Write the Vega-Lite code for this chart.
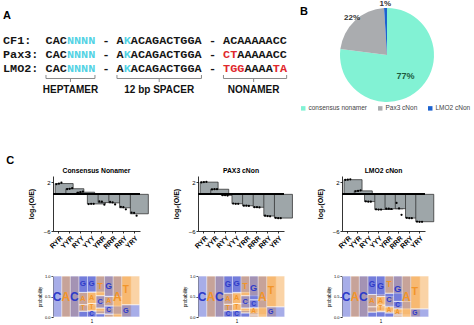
{
  "$schema": "https://vega.github.io/schema/vega-lite/v6.json",
  "padding": {"left": 3, "top": 0, "right": 0, "bottom": 0},
  "background": "white",
  "config": {
    "view": {"stroke": null},
    "font": "Liberation Sans",
    "title": {"font": "Liberation Sans", "color": "#000"},
    "axis": {"domainColor": "#000", "tickColor": "#000", "labelColor": "#000", "titleColor": "#000", "grid": false, "labelFont": "Liberation Sans", "titleFont": "Liberation Sans", "domainWidth": 0.8, "tickWidth": 0.8, "labelOverlap": false}
  },
  "datasets": {
    "seq": [
      {"r": 0, "c": 0, "t": "CF1:", "k": "plain"},
      {"r": 0, "c": 6, "t": "CAC", "k": "plain"},
      {"r": 0, "c": 9, "t": "NNNN", "k": "var"},
      {"r": 0, "c": 14, "t": "-", "k": "plain"},
      {"r": 0, "c": 16, "t": "A", "k": "plain"},
      {"r": 0, "c": 17, "t": "K", "k": "var"},
      {"r": 0, "c": 18, "t": "ACAGACTGGA", "k": "plain"},
      {"r": 0, "c": 29, "t": "-", "k": "plain"},
      {"r": 0, "c": 31, "t": "ACAAAAACC", "k": "plain"},
      {"r": 1, "c": 0, "t": "Pax3:", "k": "plain"},
      {"r": 1, "c": 6, "t": "CAC", "k": "plain"},
      {"r": 1, "c": 9, "t": "NNNN", "k": "var"},
      {"r": 1, "c": 14, "t": "-", "k": "plain"},
      {"r": 1, "c": 16, "t": "A", "k": "plain"},
      {"r": 1, "c": 17, "t": "K", "k": "var"},
      {"r": 1, "c": 18, "t": "ACAGACTGGA", "k": "plain"},
      {"r": 1, "c": 29, "t": "-", "k": "plain"},
      {"r": 1, "c": 31, "t": "CT", "k": "mut"},
      {"r": 1, "c": 33, "t": "AAAAACC", "k": "plain"},
      {"r": 2, "c": 0, "t": "LMO2:", "k": "plain"},
      {"r": 2, "c": 6, "t": "CAC", "k": "plain"},
      {"r": 2, "c": 9, "t": "NNNN", "k": "var"},
      {"r": 2, "c": 14, "t": "-", "k": "plain"},
      {"r": 2, "c": 16, "t": "A", "k": "plain"},
      {"r": 2, "c": 17, "t": "K", "k": "var"},
      {"r": 2, "c": 18, "t": "ACAGACTGGA", "k": "plain"},
      {"r": 2, "c": 29, "t": "-", "k": "plain"},
      {"r": 2, "c": 31, "t": "TGG", "k": "mut"},
      {"r": 2, "c": 34, "t": "AAAA", "k": "plain"},
      {"r": 2, "c": 38, "t": "TA", "k": "mut"}
    ],
    "brackets": [
      {"seg": "HEPTAMER", "a": 6.05, "b": 12.95, "m": 9.5},
      {"seg": "12 bp SPACER", "a": 16.05, "b": 27.95, "m": 22},
      {"seg": "NONAMER", "a": 31.05, "b": 39.95, "m": 35.3}
    ],
    "pie": [
      {"cat": "consensus nonamer", "pct": 77, "rank": 1, "lab": "77%"},
      {"cat": "Pax3 cNon", "pct": 22, "rank": 2, "lab": "22%"},
      {"cat": "LMO2 cNon", "pct": 1, "rank": 3, "lab": "1%"}
    ],
    "bars": [
      {"g": "cons", "m": "RYR", "a": 1.65, "b": 1.75, "c": 1.9},
      {"g": "cons", "m": "YYR", "a": 0.85, "b": 0.9, "c": 1.0},
      {"g": "cons", "m": "RYY", "a": 0.25, "b": 0.35, "c": 0.45},
      {"g": "cons", "m": "YYY", "a": -1.6, "b": -1.55, "c": -1.55},
      {"g": "cons", "m": "YRR", "a": -1.15, "b": -1.2, "c": -1.7},
      {"g": "cons", "m": "RRR", "a": -1.25, "b": -1.3, "c": -1.65},
      {"g": "cons", "m": "RRY", "a": -2.05, "b": -2.1, "c": -2.45},
      {"g": "cons", "m": "YRY", "a": -3.0, "b": -3.05, "c": -3.5},
      {"g": "pax", "m": "RYR", "a": 1.95, "b": 2.0, "c": 2.05},
      {"g": "pax", "m": "YYR", "a": 0.8, "b": 0.85, "c": 0.85},
      {"g": "pax", "m": "RYY", "a": -0.15, "b": -0.15, "c": -0.2},
      {"g": "pax", "m": "YYY", "a": -1.5, "b": -1.55, "c": -1.55},
      {"g": "pax", "m": "YRR", "a": -1.85, "b": -1.85, "c": -1.9},
      {"g": "pax", "m": "RRR", "a": -2.1, "b": -2.1, "c": -2.15},
      {"g": "pax", "m": "RRY", "a": -3.5, "b": -3.55, "c": -3.6},
      {"g": "pax", "m": "YRY", "a": -3.85, "b": -3.9, "c": -3.9},
      {"g": "lmo", "m": "RYR", "a": 2.35, "b": 2.4, "c": 2.45},
      {"g": "lmo", "m": "YYR", "a": 0.5, "b": 0.55, "c": 0.65},
      {"g": "lmo", "m": "RYY", "a": -1.15, "b": -1.2, "c": -1.2},
      {"g": "lmo", "m": "YYY", "a": -2.45, "b": -2.5, "c": -2.5},
      {"g": "lmo", "m": "YRR", "a": -2.35, "b": -2.35, "c": -2.4},
      {"g": "lmo", "m": "RRR", "a": -1.4, "b": -2.3, "c": -3.35},
      {"g": "lmo", "m": "RRY", "a": -3.85, "b": -3.9, "c": -3.9},
      {"g": "lmo", "m": "YRY", "a": -4.45, "b": -4.5, "c": -4.5}
    ],
    "logo": [
      {"g": "cons", "pos": 1, "l": "C", "p": 1},
      {"g": "cons", "pos": 2, "l": "A", "p": 1},
      {"g": "cons", "pos": 3, "l": "C", "p": 1},
      {"g": "cons", "pos": 4, "l": "C", "p": 0.14},
      {"g": "cons", "pos": 4, "l": "T", "p": 0.16},
      {"g": "cons", "pos": 4, "l": "A", "p": 0.3},
      {"g": "cons", "pos": 4, "l": "G", "p": 0.4},
      {"g": "cons", "pos": 5, "l": "C", "p": 0.15},
      {"g": "cons", "pos": 5, "l": "T", "p": 0.18},
      {"g": "cons", "pos": 5, "l": "A", "p": 0.28},
      {"g": "cons", "pos": 5, "l": "G", "p": 0.39},
      {"g": "cons", "pos": 6, "l": "G", "p": 0.08},
      {"g": "cons", "pos": 6, "l": "A", "p": 0.14},
      {"g": "cons", "pos": 6, "l": "C", "p": 0.3},
      {"g": "cons", "pos": 6, "l": "T", "p": 0.48},
      {"g": "cons", "pos": 7, "l": "T", "p": 0.07},
      {"g": "cons", "pos": 7, "l": "C", "p": 0.2},
      {"g": "cons", "pos": 7, "l": "A", "p": 0.23},
      {"g": "cons", "pos": 7, "l": "G", "p": 0.5},
      {"g": "cons", "pos": 8, "l": "A", "p": 1},
      {"g": "cons", "pos": 9, "l": "G", "p": 0.3},
      {"g": "cons", "pos": 9, "l": "T", "p": 0.7},
      {"g": "pax", "pos": 1, "l": "C", "p": 1},
      {"g": "pax", "pos": 2, "l": "A", "p": 1},
      {"g": "pax", "pos": 3, "l": "C", "p": 1},
      {"g": "pax", "pos": 4, "l": "C", "p": 0.15},
      {"g": "pax", "pos": 4, "l": "T", "p": 0.16},
      {"g": "pax", "pos": 4, "l": "A", "p": 0.27},
      {"g": "pax", "pos": 4, "l": "G", "p": 0.42},
      {"g": "pax", "pos": 5, "l": "C", "p": 0.16},
      {"g": "pax", "pos": 5, "l": "T", "p": 0.17},
      {"g": "pax", "pos": 5, "l": "A", "p": 0.27},
      {"g": "pax", "pos": 5, "l": "G", "p": 0.4},
      {"g": "pax", "pos": 6, "l": "G", "p": 0.1},
      {"g": "pax", "pos": 6, "l": "A", "p": 0.12},
      {"g": "pax", "pos": 6, "l": "C", "p": 0.3},
      {"g": "pax", "pos": 6, "l": "T", "p": 0.48},
      {"g": "pax", "pos": 7, "l": "T", "p": 0.05},
      {"g": "pax", "pos": 7, "l": "C", "p": 0.2},
      {"g": "pax", "pos": 7, "l": "A", "p": 0.17},
      {"g": "pax", "pos": 7, "l": "G", "p": 0.58},
      {"g": "pax", "pos": 8, "l": "A", "p": 1},
      {"g": "pax", "pos": 9, "l": "G", "p": 0.25},
      {"g": "pax", "pos": 9, "l": "T", "p": 0.75},
      {"g": "lmo", "pos": 1, "l": "C", "p": 1},
      {"g": "lmo", "pos": 2, "l": "A", "p": 1},
      {"g": "lmo", "pos": 3, "l": "C", "p": 1},
      {"g": "lmo", "pos": 4, "l": "C", "p": 0.12},
      {"g": "lmo", "pos": 4, "l": "T", "p": 0.13},
      {"g": "lmo", "pos": 4, "l": "A", "p": 0.3},
      {"g": "lmo", "pos": 4, "l": "G", "p": 0.45},
      {"g": "lmo", "pos": 5, "l": "C", "p": 0.14},
      {"g": "lmo", "pos": 5, "l": "T", "p": 0.15},
      {"g": "lmo", "pos": 5, "l": "A", "p": 0.21},
      {"g": "lmo", "pos": 5, "l": "G", "p": 0.5},
      {"g": "lmo", "pos": 6, "l": "G", "p": 0.1},
      {"g": "lmo", "pos": 6, "l": "A", "p": 0.15},
      {"g": "lmo", "pos": 6, "l": "C", "p": 0.33},
      {"g": "lmo", "pos": 6, "l": "T", "p": 0.42},
      {"g": "lmo", "pos": 7, "l": "T", "p": 0.05},
      {"g": "lmo", "pos": 7, "l": "A", "p": 0.15},
      {"g": "lmo", "pos": 7, "l": "C", "p": 0.18},
      {"g": "lmo", "pos": 7, "l": "G", "p": 0.62},
      {"g": "lmo", "pos": 8, "l": "A", "p": 1},
      {"g": "lmo", "pos": 9, "l": "G", "p": 0.2},
      {"g": "lmo", "pos": 9, "l": "T", "p": 0.8}
    ]
  },
  "columns": 1,
  "spacing": 43,
  "resolve": {"scale": {"color": "independent", "stroke": "independent", "size": "independent"}, "legend": {"color": "independent", "stroke": "independent", "size": "independent"}},
  "concat": [
    {
      "spacing": 12,
      "resolve": {"scale": {"color": "independent"}, "legend": {"color": "independent"}},
      "hconcat": [
        {
          "width": 235,
          "height": 100,
          "title": {"text": "A", "anchor": "start", "frame": "bounds", "offset": -16, "fontSize": 11, "fontWeight": "bold"},
          "layer": [
            {
              "data": {"name": "seq"},
              "mark": {"type": "text", "align": "left", "baseline": "middle", "font": "Liberation Mono", "fontSize": 11.8, "fontWeight": "bold"},
              "encoding": {
                "x": {"field": "c", "type": "quantitative", "scale": {"domain": [7.04, 40.14], "nice": false, "zero": false}, "axis": null},
                "y": {"field": "r", "type": "quantitative", "scale": {"domain": [-2.5, 4.643], "reverse": true, "nice": false, "zero": false}, "axis": null},
                "text": {"field": "t"},
                "color": {"field": "k", "type": "nominal", "scale": {"domain": ["plain", "var", "mut"], "range": ["#151515", "#52D2E4", "#E0282C"]}, "legend": null}
              }
            },
            {
              "data": {"name": "brackets"},
              "mark": {"type": "rule", "color": "#8a8a8a", "strokeWidth": 1},
              "encoding": {"x": {"field": "a", "type": "quantitative"}, "x2": {"field": "b"}, "y": {"datum": 2.75}}
            },
            {
              "data": {"name": "brackets"},
              "mark": {"type": "rule", "color": "#8a8a8a", "strokeWidth": 1},
              "encoding": {"x": {"field": "a", "type": "quantitative"}, "y": {"datum": 2.5}, "y2": {"datum": 2.75}}
            },
            {
              "data": {"name": "brackets"},
              "mark": {"type": "rule", "color": "#8a8a8a", "strokeWidth": 1},
              "encoding": {"x": {"field": "b", "type": "quantitative"}, "y": {"datum": 2.5}, "y2": {"datum": 2.75}}
            },
            {
              "data": {"name": "brackets"},
              "mark": {"type": "rule", "color": "#8a8a8a", "strokeWidth": 1},
              "encoding": {"x": {"field": "m", "type": "quantitative"}, "y": {"datum": 2.75}, "y2": {"datum": 3.0}}
            },
            {
              "data": {"name": "brackets"},
              "mark": {"type": "text", "align": "center", "baseline": "middle", "fontSize": 10, "fontWeight": "bold", "color": "#111"},
              "encoding": {"x": {"field": "m", "type": "quantitative"}, "y": {"datum": 3.57}, "text": {"field": "seg"}}
            }
          ]
        },
        {
          "width": 174,
          "height": 100,
          "title": {"text": "B", "anchor": "start", "frame": "group", "offset": -17, "fontSize": 11, "fontWeight": "bold"},
          "data": {"name": "pie"},
          "encoding": {
            "theta": {"field": "pct", "type": "quantitative", "stack": true},
            "order": {"field": "rank", "type": "quantitative"}
          },
          "layer": [
            {
              "mark": {"type": "arc", "radius": 47},
              "encoding": {
                "color": {"field": "cat", "type": "nominal", "scale": {"domain": ["consensus nonamer", "Pax3 cNon", "LMO2 cNon"], "range": ["#82F2D4", "#AAACAF", "#1C62CF"]},
                  "legend": {"orient": "bottom", "direction": "horizontal", "title": null, "symbolType": "square", "symbolSize": 20, "symbolStrokeWidth": 0, "labelFontSize": 6.5, "labelColor": "#444", "columnPadding": 9, "offset": 0, "labelOffset": 2, "padding": 0}}
              }
            },
            {
              "mark": {"type": "text", "radius": 28, "fontSize": 9, "fontWeight": "bold", "color": "#1E5A3C"},
              "encoding": {"text": {"condition": {"test": "datum.rank == 1", "field": "lab"}, "value": ""}}
            },
            {
              "mark": {"type": "text", "radius": 51, "fontSize": 8, "fontWeight": "bold", "color": "#333"},
              "encoding": {"text": {"condition": {"test": "datum.rank > 1", "field": "lab"}, "value": ""}}
            }
          ]
        }
      ]
    },
    {
      "title": {"text": "C", "anchor": "start", "frame": "bounds", "dx": -21, "fontSize": 11, "fontWeight": "bold", "offset": 2},
      "columns": 3,
      "bounds": "flush",
      "align": "each",
      "spacing": {"row": 45, "column": 58},
      "concat": [
        {
          "title": {"text": "Consensus Nonamer", "fontSize": 6.8, "fontWeight": "bold", "frame": "group", "offset": 1},
          "width": 87, "height": 55,
          "data": {"name": "bars"},
          "transform": [{"filter": "datum.g == 'cons'"}, {"fold": ["a", "b", "c"], "as": ["rep", "v"]}],
          "layer": [
            {"mark": {"type": "bar", "fill": "#9EA6A9", "stroke": "#222", "strokeWidth": 0.7},
             "encoding": {
               "x": {"field": "m", "type": "nominal", "sort": ["RYR", "YYR", "RYY", "YYY", "YRR", "RRR", "RRY", "YRY"], "scale": {"paddingInner": 0.3, "paddingOuter": 0.2}, "axis": {"title": null, "labelAngle": -45, "labelFontSize": 7, "labelFontWeight": "bold", "tickSize": 2, "labelPadding": 1}},
               "y": {"aggregate": "mean", "field": "v", "type": "quantitative", "title": "log₂(O/E)", "scale": {"domain": [-6, 3], "nice": false}, "axis": {"values": [-6, -4, -2, 0, 2], "labelOverlap": false, "labelFlush": false, "titleFontSize": 7, "titleFontWeight": "bold", "labelFontSize": 6, "tickSize": 2, "titlePadding": 9, "labelPadding": 1}}
             }},
            {"mark": {"type": "rule", "color": "#000", "strokeWidth": 0.8}, "encoding": {"y": {"datum": 0}}},
            {"mark": {"type": "point", "filled": true, "size": 5, "color": "#000", "opacity": 1},
             "encoding": {
               "x": {"field": "m", "type": "nominal", "sort": ["RYR", "YYR", "RYY", "YYY", "YRR", "RRR", "RRY", "YRY"]},
               "xOffset": {"field": "rep", "type": "nominal"},
               "y": {"field": "v", "type": "quantitative", "title": "log₂(O/E)", "axis": {"values": [-6, -4, -2, 0, 2], "labelOverlap": false, "labelFlush": false, "titleFontSize": 7, "titleFontWeight": "bold", "labelFontSize": 6, "tickSize": 2, "titlePadding": 9, "labelPadding": 1}}
             }}
          ]
        },
        {
          "title": {"text": "PAX3 cNon", "fontSize": 6.8, "fontWeight": "bold", "frame": "group", "offset": 1},
          "width": 86, "height": 55,
          "data": {"name": "bars"},
          "transform": [{"filter": "datum.g == 'pax'"}, {"fold": ["a", "b", "c"], "as": ["rep", "v"]}],
          "layer": [
            {"mark": {"type": "bar", "fill": "#9EA6A9", "stroke": "#222", "strokeWidth": 0.7},
             "encoding": {
               "x": {"field": "m", "type": "nominal", "sort": ["RYR", "YYR", "RYY", "YYY", "YRR", "RRR", "RRY", "YRY"], "scale": {"paddingInner": 0.3, "paddingOuter": 0.2}, "axis": {"title": null, "labelAngle": -45, "labelFontSize": 7, "labelFontWeight": "bold", "tickSize": 2, "labelPadding": 1}},
               "y": {"aggregate": "mean", "field": "v", "type": "quantitative", "title": "log₂(O/E)", "scale": {"domain": [-6, 3], "nice": false}, "axis": {"values": [-6, -4, -2, 0, 2], "labelOverlap": false, "labelFlush": false, "titleFontSize": 7, "titleFontWeight": "bold", "labelFontSize": 6, "tickSize": 2, "titlePadding": 9, "labelPadding": 1}}
             }},
            {"mark": {"type": "rule", "color": "#000", "strokeWidth": 0.8}, "encoding": {"y": {"datum": 0}}},
            {"mark": {"type": "point", "filled": true, "size": 5, "color": "#000", "opacity": 1},
             "encoding": {
               "x": {"field": "m", "type": "nominal", "sort": ["RYR", "YYR", "RYY", "YYY", "YRR", "RRR", "RRY", "YRY"]},
               "xOffset": {"field": "rep", "type": "nominal"},
               "y": {"field": "v", "type": "quantitative", "title": "log₂(O/E)", "axis": {"values": [-6, -4, -2, 0, 2], "labelOverlap": false, "labelFlush": false, "titleFontSize": 7, "titleFontWeight": "bold", "labelFontSize": 6, "tickSize": 2, "titlePadding": 9, "labelPadding": 1}}
             }}
          ]
        },
        {
          "title": {"text": "LMO2 cNon", "fontSize": 6.8, "fontWeight": "bold", "frame": "group", "offset": 1},
          "width": 83, "height": 55,
          "data": {"name": "bars"},
          "transform": [{"filter": "datum.g == 'lmo'"}, {"fold": ["a", "b", "c"], "as": ["rep", "v"]}],
          "layer": [
            {"mark": {"type": "bar", "fill": "#9EA6A9", "stroke": "#222", "strokeWidth": 0.7},
             "encoding": {
               "x": {"field": "m", "type": "nominal", "sort": ["RYR", "YYR", "RYY", "YYY", "YRR", "RRR", "RRY", "YRY"], "scale": {"paddingInner": 0.3, "paddingOuter": 0.2}, "axis": {"title": null, "labelAngle": -45, "labelFontSize": 7, "labelFontWeight": "bold", "tickSize": 2, "labelPadding": 1}},
               "y": {"aggregate": "mean", "field": "v", "type": "quantitative", "title": "log₂(O/E)", "scale": {"domain": [-6, 3], "nice": false}, "axis": {"values": [-6, -4, -2, 0, 2], "labelOverlap": false, "labelFlush": false, "titleFontSize": 7, "titleFontWeight": "bold", "labelFontSize": 6, "tickSize": 2, "titlePadding": 9, "labelPadding": 1}}
             }},
            {"mark": {"type": "rule", "color": "#000", "strokeWidth": 0.8}, "encoding": {"y": {"datum": 0}}},
            {"mark": {"type": "point", "filled": true, "size": 5, "color": "#000", "opacity": 1},
             "encoding": {
               "x": {"field": "m", "type": "nominal", "sort": ["RYR", "YYR", "RYY", "YYY", "YRR", "RRR", "RRY", "YRY"]},
               "xOffset": {"field": "rep", "type": "nominal"},
               "y": {"field": "v", "type": "quantitative", "title": "log₂(O/E)", "axis": {"values": [-6, -4, -2, 0, 2], "labelOverlap": false, "labelFlush": false, "titleFontSize": 7, "titleFontWeight": "bold", "labelFontSize": 6, "tickSize": 2, "titlePadding": 9, "labelPadding": 1}}
             }}
          ]
        },
        {
          "width": 77, "height": 41,
          "data": {"name": "logo"},
          "transform": [{"filter": "datum.g == 'cons'"}],
          "encoding": {
            "x": {"field": "pos", "type": "ordinal", "scale": {"paddingInner": 0.06, "paddingOuter": 0.02}, "axis": {"labels": false, "ticks": false, "domain": false, "title": "1", "titleFontSize": 4.5, "titleFontWeight": "normal", "titlePadding": 1}},
            "y": {"field": "p", "type": "quantitative", "stack": "zero", "scale": {"domain": [0, 1]}, "axis": {"values": [0, 0.5, 1], "format": ".1f", "labelFontSize": 4, "tickSize": 2, "title": "probability", "titleFontSize": 4.5, "titleFontWeight": "normal", "titlePadding": 2, "labelPadding": 1}},
            "order": {"field": "p", "type": "quantitative", "sort": "ascending"}
          },
          "layer": [
            {"mark": {"type": "bar", "fillOpacity": 0.42, "stroke": "white", "strokeWidth": 0.6},
             "encoding": {
               "color": {"field": "l", "type": "nominal", "scale": {"domain": ["A", "C", "G", "T"], "range": ["#F2952A", "#2E3BC9", "#2E3BC9", "#F2952A"]}, "legend": null}
             }},
            {"mark": {"type": "text", "fontWeight": "bold", "baseline": "middle"},
             "encoding": {
               "y": {"field": "p", "type": "quantitative", "stack": "zero", "bandPosition": 0.5},
               "text": {"condition": {"test": "datum.p >= 0.15", "field": "l"}, "value": ""},
               "color": {"field": "l", "type": "nominal", "scale": {"domain": ["A", "C", "G", "T"], "range": ["#E07E10", "#2630B8", "#2630B8", "#E07E10"]}, "legend": null},
               "size": {"field": "p", "type": "quantitative", "scale": {"domain": [0.1, 1], "range": [6, 12]}, "legend": null}
             }}
          ]
        },
        {
          "width": 77, "height": 41,
          "data": {"name": "logo"},
          "transform": [{"filter": "datum.g == 'pax'"}],
          "encoding": {
            "x": {"field": "pos", "type": "ordinal", "scale": {"paddingInner": 0.06, "paddingOuter": 0.02}, "axis": {"labels": false, "ticks": false, "domain": false, "title": "1", "titleFontSize": 4.5, "titleFontWeight": "normal", "titlePadding": 1}},
            "y": {"field": "p", "type": "quantitative", "stack": "zero", "scale": {"domain": [0, 1]}, "axis": {"values": [0, 0.5, 1], "format": ".1f", "labelFontSize": 4, "tickSize": 2, "title": "probability", "titleFontSize": 4.5, "titleFontWeight": "normal", "titlePadding": 2, "labelPadding": 1}},
            "order": {"field": "p", "type": "quantitative", "sort": "ascending"}
          },
          "layer": [
            {"mark": {"type": "bar", "fillOpacity": 0.42, "stroke": "white", "strokeWidth": 0.6},
             "encoding": {
               "color": {"field": "l", "type": "nominal", "scale": {"domain": ["A", "C", "G", "T"], "range": ["#F2952A", "#2E3BC9", "#2E3BC9", "#F2952A"]}, "legend": null}
             }},
            {"mark": {"type": "text", "fontWeight": "bold", "baseline": "middle"},
             "encoding": {
               "y": {"field": "p", "type": "quantitative", "stack": "zero", "bandPosition": 0.5},
               "text": {"condition": {"test": "datum.p >= 0.15", "field": "l"}, "value": ""},
               "color": {"field": "l", "type": "nominal", "scale": {"domain": ["A", "C", "G", "T"], "range": ["#E07E10", "#2630B8", "#2630B8", "#E07E10"]}, "legend": null},
               "size": {"field": "p", "type": "quantitative", "scale": {"domain": [0.1, 1], "range": [6, 12]}, "legend": null}
             }}
          ]
        },
        {
          "width": 77, "height": 41,
          "data": {"name": "logo"},
          "transform": [{"filter": "datum.g == 'lmo'"}],
          "encoding": {
            "x": {"field": "pos", "type": "ordinal", "scale": {"paddingInner": 0.06, "paddingOuter": 0.02}, "axis": {"labels": false, "ticks": false, "domain": false, "title": "1", "titleFontSize": 4.5, "titleFontWeight": "normal", "titlePadding": 1}},
            "y": {"field": "p", "type": "quantitative", "stack": "zero", "scale": {"domain": [0, 1]}, "axis": {"values": [0, 0.5, 1], "format": ".1f", "labelFontSize": 4, "tickSize": 2, "title": "probability", "titleFontSize": 4.5, "titleFontWeight": "normal", "titlePadding": 2, "labelPadding": 1}},
            "order": {"field": "p", "type": "quantitative", "sort": "ascending"}
          },
          "layer": [
            {"mark": {"type": "bar", "fillOpacity": 0.42, "stroke": "white", "strokeWidth": 0.6},
             "encoding": {
               "color": {"field": "l", "type": "nominal", "scale": {"domain": ["A", "C", "G", "T"], "range": ["#F2952A", "#2E3BC9", "#2E3BC9", "#F2952A"]}, "legend": null}
             }},
            {"mark": {"type": "text", "fontWeight": "bold", "baseline": "middle"},
             "encoding": {
               "y": {"field": "p", "type": "quantitative", "stack": "zero", "bandPosition": 0.5},
               "text": {"condition": {"test": "datum.p >= 0.15", "field": "l"}, "value": ""},
               "color": {"field": "l", "type": "nominal", "scale": {"domain": ["A", "C", "G", "T"], "range": ["#E07E10", "#2630B8", "#2630B8", "#E07E10"]}, "legend": null},
               "size": {"field": "p", "type": "quantitative", "scale": {"domain": [0.1, 1], "range": [6, 12]}, "legend": null}
             }}
          ]
        }
      ]
    }
  ]
}
